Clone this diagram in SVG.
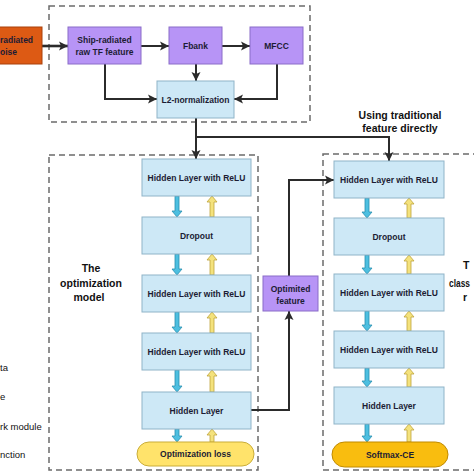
<svg xmlns="http://www.w3.org/2000/svg" width="474" height="474" viewBox="0 0 474 474">
<style>
  text { font-family: "Liberation Sans", Arial, sans-serif; fill: #1c1c34; }
  .lbl { font-size: 8.5px; font-weight: bold; text-anchor: middle; }
  .head { font-size: 10.5px; font-weight: bold; fill: #111; }
  .leg { font-size: 9.5px; fill: #111; }
  .dash { fill: none; stroke: #6b6b6b; stroke-width: 1.5; stroke-dasharray: 6 4; }
  .purple { fill: #b794f6; stroke: #8a6cc8; stroke-width: 1; }
  .blue { fill: #cde8f6; stroke: #8fb4c8; stroke-width: 1; }
  .orange { fill: #dd5a14; stroke: #a9410a; stroke-width: 1; }
  .loss { fill: #ffe36b; stroke: #c9ad3a; stroke-width: 1; }
  .soft { fill: #f9bd0f; stroke: #c08a00; stroke-width: 1; }
  .conn { fill: none; stroke: #2b2b2b; stroke-width: 2; marker-end: url(#ah); }
  .thick { stroke-width: 2.6; }
  .down { fill: #4dbfe0; stroke: #2a8fb0; stroke-width: 0.8; }
  .up { fill: #f4e27c; stroke: #bfa43e; stroke-width: 0.8; }
</style>
<defs>
  <marker id="ah" markerUnits="userSpaceOnUse" markerWidth="10" markerHeight="10" refX="9" refY="5" orient="auto">
    <path d="M0,0.5 L9,5 L0,9.5 L2,5 z" fill="#2b2b2b"/>
  </marker>
</defs>
<rect width="474" height="474" fill="#ffffff"/>

<!-- dashed containers -->
<rect class="dash" x="49" y="6" width="261" height="116"/>
<rect class="dash" x="49" y="155" width="209" height="315"/>
<rect class="dash" x="323" y="154" width="160" height="316"/>

<!-- connectors -->
<g id="connectors">
  <path class="conn thick" d="M42,46 H68"/>
  <path class="conn" d="M141,46 H169"/>
  <path class="conn" d="M222,46 H250"/>
  <path class="conn" d="M196,64 V81"/>
  <path class="conn" d="M105,64 V99 H157"/>
  <path class="conn" d="M277,64 V99 H234"/>
  <path class="conn" d="M196,118 V159"/>
  <path class="conn" d="M196,137 H389 V161"/>
  <path class="conn" d="M251,410 H289 V311"/>
  <path class="conn" d="M289,276 V180 H334"/>
  <!-- flow arrows left column -->
  <polygon class="down" points="175,196 179,196 179,211 182,211 177,217 172,211 175,211"/>
  <polygon class="up" points="210,217 214,217 214,202 217,202 212,196 207,202 210,202"/>
  <polygon class="down" points="175,254 179,254 179,269 182,269 177,275 172,269 175,269"/>
  <polygon class="up" points="210,275 214,275 214,260 217,260 212,254 207,260 210,260"/>
  <polygon class="down" points="175,312 179,312 179,327 182,327 177,333 172,327 175,327"/>
  <polygon class="up" points="210,333 214,333 214,318 217,318 212,312 207,318 210,318"/>
  <polygon class="down" points="175,370 179,370 179,386 182,386 177,392 172,386 175,386"/>
  <polygon class="up" points="210,392 214,392 214,376 217,376 212,370 207,376 210,376"/>
  <polygon class="down" points="175,429 179,429 179,436 182,436 177,442 172,436 175,436"/>
  <polygon class="up" points="210,442 214,442 214,435 217,435 212,429 207,435 210,435"/>
  <!-- flow arrows right column -->
  <polygon class="down" points="365,198 369,198 369,212 372,212 367,218 362,212 365,212"/>
  <polygon class="up" points="407,218 411,218 411,204 414,204 409,198 404,204 407,204"/>
  <polygon class="down" points="365,255 369,255 369,268 372,268 367,274 362,268 365,268"/>
  <polygon class="up" points="407,274 411,274 411,261 414,261 409,255 404,261 407,261"/>
  <polygon class="down" points="365,311 369,311 369,325 372,325 367,331 362,325 365,325"/>
  <polygon class="up" points="407,331 411,331 411,317 414,317 409,311 404,317 407,317"/>
  <polygon class="down" points="365,368 369,368 369,381 372,381 367,387 362,381 365,381"/>
  <polygon class="up" points="407,387 411,387 411,374 414,374 409,368 404,374 407,374"/>
  <polygon class="down" points="365,424 369,424 369,436 372,436 367,442 362,436 365,436"/>
  <polygon class="up" points="407,442 411,442 411,430 414,430 409,424 404,430 407,430"/>
</g>

<!-- top nodes -->
<g id="noise">
  <rect class="orange" x="-40" y="27" width="82" height="37"/>
  <text class="lbl" x="0" y="43" style="text-anchor:start">radiated</text>
  <text class="lbl" x="0" y="55" style="text-anchor:start">oise</text>
</g>
<g id="raw">
  <rect class="purple" x="68" y="27" width="73" height="37"/>
  <text class="lbl" x="104.5" y="43">Ship-radiated</text>
  <text class="lbl" x="104.5" y="55">raw TF feature</text>
</g>
<g id="fbank">
  <rect class="purple" x="169" y="27" width="53" height="37"/>
  <text class="lbl" x="195.5" y="49">Fbank</text>
</g>
<g id="mfcc">
  <rect class="purple" x="250" y="27" width="53" height="37"/>
  <text class="lbl" x="276.5" y="49">MFCC</text>
</g>
<g id="l2">
  <rect class="blue" x="157" y="81" width="77" height="37"/>
  <text class="lbl" x="195.5" y="102.5">L2-normalization</text>
</g>

<!-- left column -->
<g id="opt-hl1">
  <rect class="blue" x="142" y="159" width="109" height="37"/>
  <text class="lbl" x="196.5" y="180.5">Hidden Layer with ReLU</text>
</g>
<g id="opt-drop">
  <rect class="blue" x="142" y="217" width="109" height="37"/>
  <text class="lbl" x="196.5" y="238.5">Dropout</text>
</g>
<g id="opt-hl2">
  <rect class="blue" x="142" y="275" width="109" height="37"/>
  <text class="lbl" x="196.5" y="296.5">Hidden Layer with ReLU</text>
</g>
<g id="opt-hl3">
  <rect class="blue" x="142" y="333" width="109" height="37"/>
  <text class="lbl" x="196.5" y="354.5">Hidden Layer with ReLU</text>
</g>
<g id="opt-hl">
  <rect class="blue" x="142" y="392" width="109" height="37"/>
  <text class="lbl" x="196.5" y="413.5">Hidden Layer</text>
</g>
<g id="opt-loss">
  <rect class="loss" x="137" y="442" width="117" height="24" rx="12"/>
  <text class="lbl" x="195.5" y="457">Optimization loss</text>
</g>

<!-- optimized feature -->
<g id="optfeat">
  <rect class="purple" x="263" y="276" width="55" height="35"/>
  <text class="lbl" x="290.5" y="292">Optimited</text>
  <text class="lbl" x="290.5" y="304">feature</text>
</g>

<!-- right column -->
<g id="cls-hl1">
  <rect class="blue" x="334" y="161" width="110" height="37"/>
  <text class="lbl" x="389" y="182.5">Hidden Layer with ReLU</text>
</g>
<g id="cls-drop">
  <rect class="blue" x="334" y="218" width="110" height="37"/>
  <text class="lbl" x="389" y="239.5">Dropout</text>
</g>
<g id="cls-hl2">
  <rect class="blue" x="334" y="274" width="110" height="37"/>
  <text class="lbl" x="389" y="295.5">Hidden Layer with ReLU</text>
</g>
<g id="cls-hl3">
  <rect class="blue" x="334" y="331" width="110" height="37"/>
  <text class="lbl" x="389" y="352.5">Hidden Layer with ReLU</text>
</g>
<g id="cls-hl">
  <rect class="blue" x="334" y="387" width="110" height="37"/>
  <text class="lbl" x="389" y="408.5">Hidden Layer</text>
</g>
<g id="cls-loss">
  <rect class="soft" x="332" y="442" width="116" height="25" rx="12.5"/>
  <text class="lbl" x="390" y="457.5">Softmax-CE</text>
</g>

<!-- free texts -->
<text class="head" x="400" y="119" text-anchor="middle">Using traditional</text>
<text class="head" x="400" y="132" text-anchor="middle">feature directly</text>
<text class="head" x="91" y="272" text-anchor="middle">The</text>
<text class="head" x="91" y="287" text-anchor="middle">optimization</text>
<text class="head" x="89" y="301" text-anchor="middle">model</text>
<text class="head" x="463" y="269">T</text>
<text class="head" x="449" y="287" textLength="21" lengthAdjust="spacingAndGlyphs">class</text>
<text class="head" x="463" y="301">r</text>

<text class="leg" x="0" y="371">ta</text>
<text class="leg" x="0" y="400">e</text>
<text class="leg" x="0" y="430">rk module</text>
<text class="leg" x="0" y="458">nction</text>
</svg>
